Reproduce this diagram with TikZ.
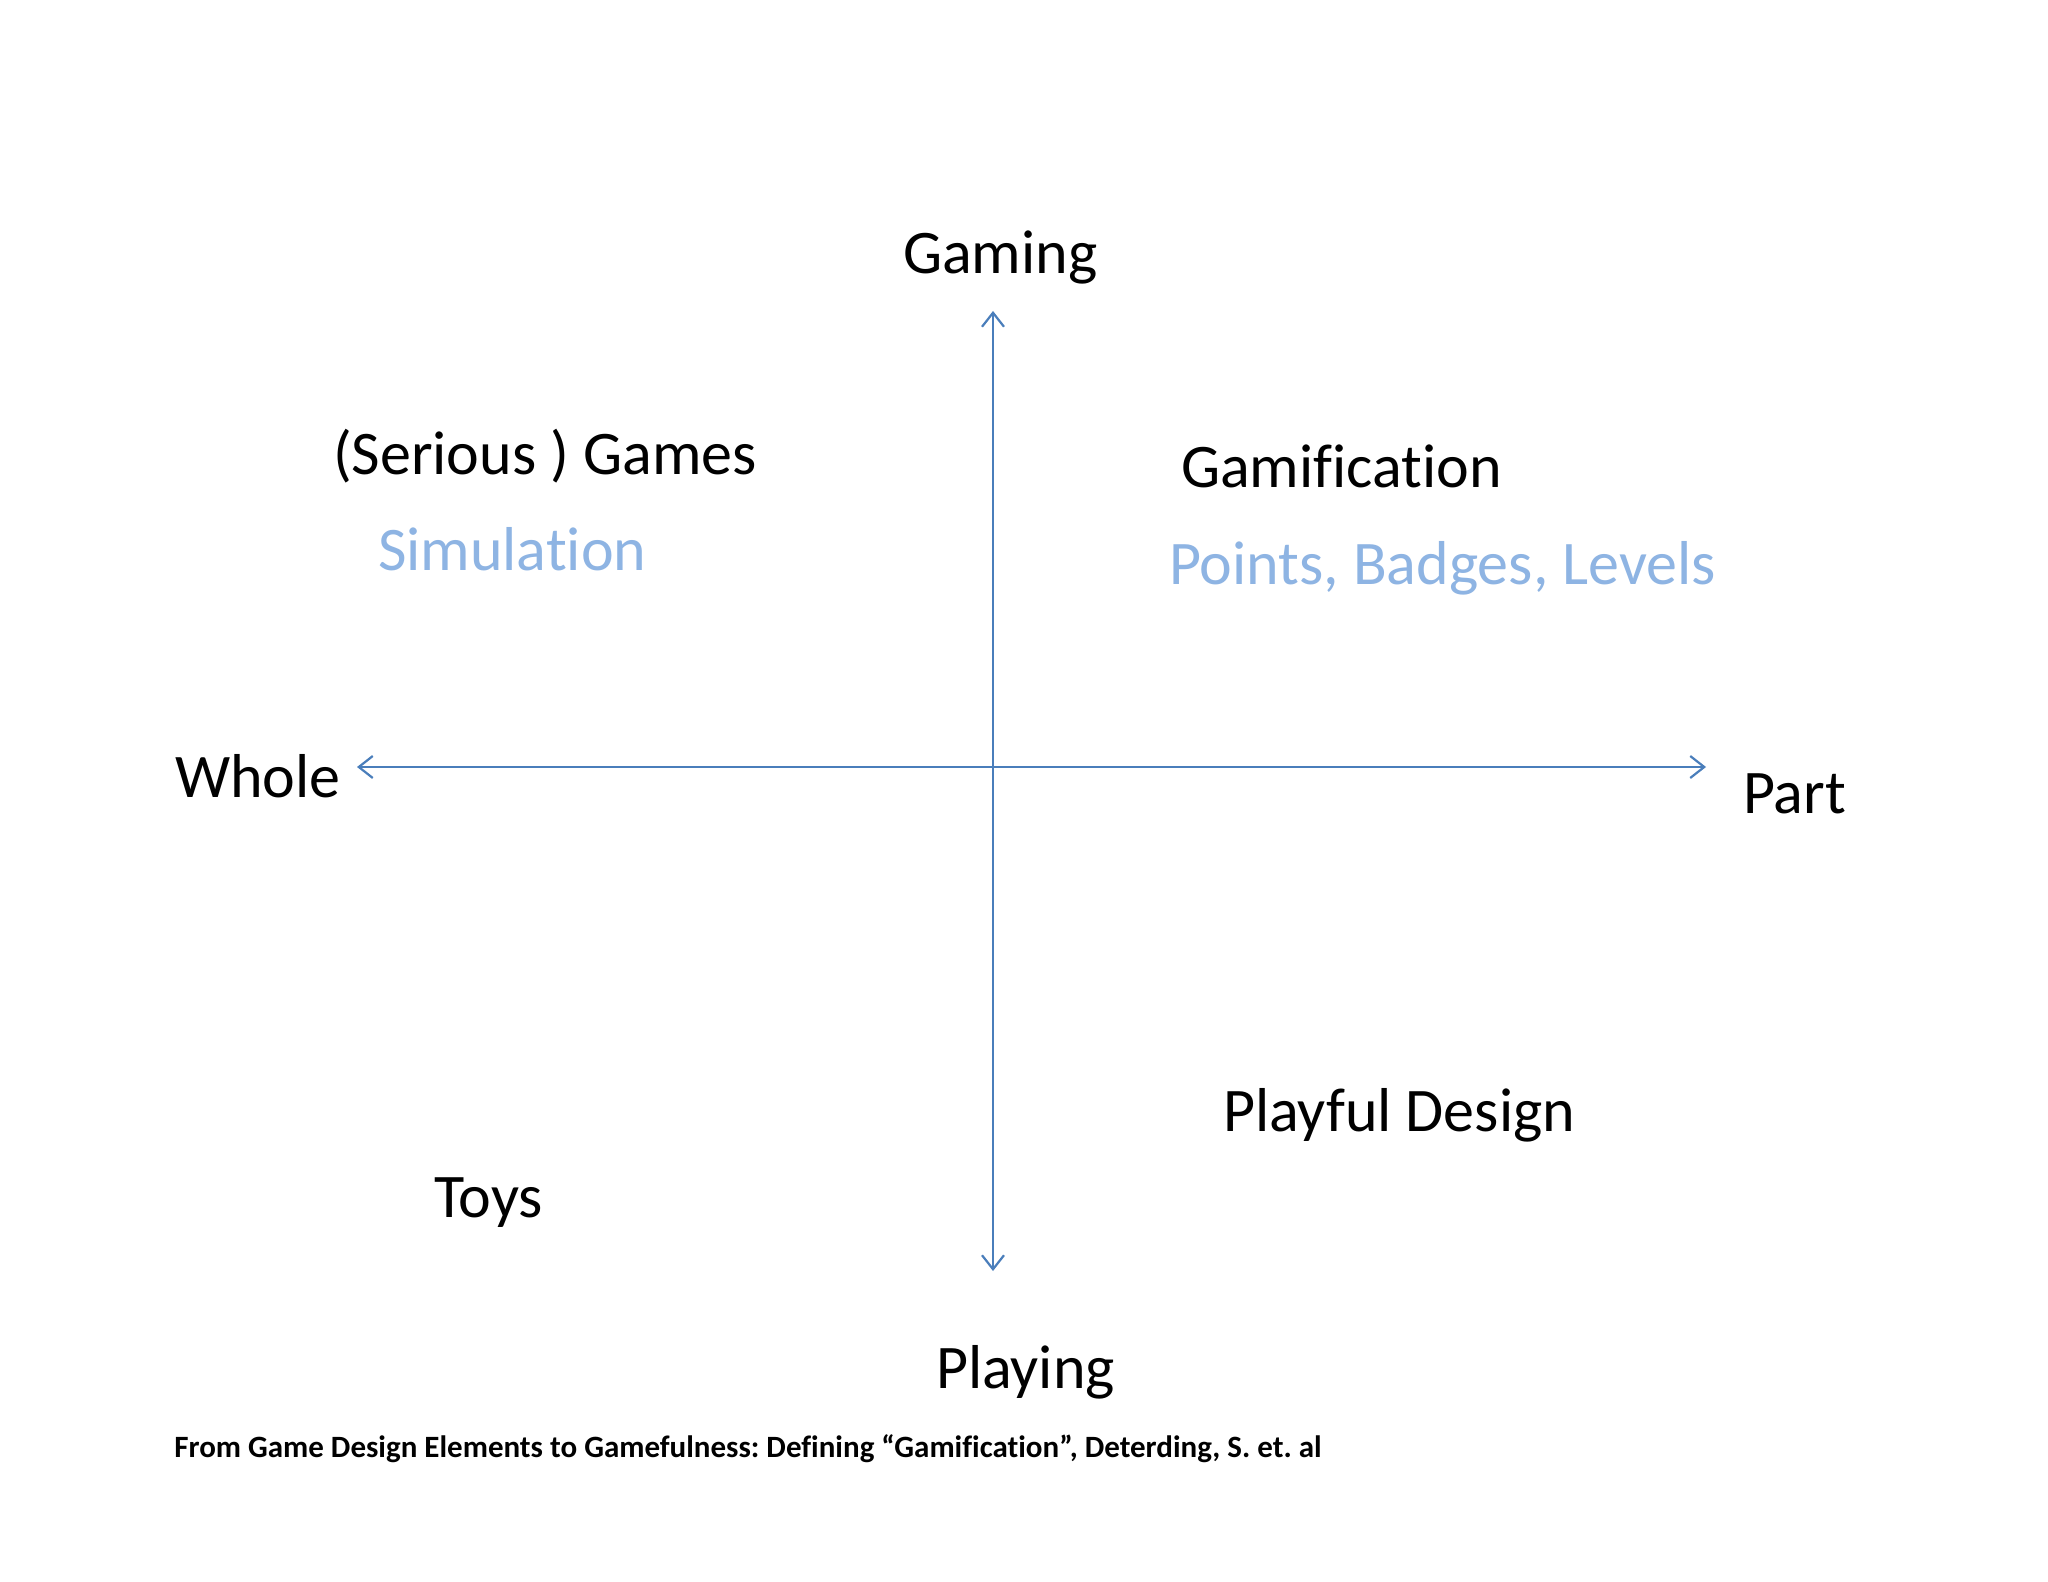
\documentclass[tikz,border=0pt]{standalone}
\usepackage{fontspec}
\setmainfont[RawFeature=-liga]{Carlito}
\usetikzlibrary{arrows.meta}
\definecolor{axisblue}{HTML}{4A7EBB}
\definecolor{lightblue}{HTML}{8EB4E3}
\frenchspacing
\begin{document}
\begin{tikzpicture}[x=0.5pt,y=-0.5pt,
  lbl/.style={anchor=base west,inner sep=0pt,outer sep=0pt,font=\fontsize{31pt}{37pt}\selectfont},
  sub/.style={lbl,text=lightblue},
  axisline/.style={draw=axisblue,line width=1.2pt,-{Straight Barb[length=7pt,width=11pt,line width=1.1pt]}},
  captext/.style={anchor=base west,inner sep=0pt,font=\fontsize{15.5pt}{18pt}\selectfont\bfseries}]
\useasboundingbox[fill=white] (0,0) rectangle (2048,1582);
% axis end points
\coordinate (c) at (993,767);
\coordinate (top) at (993,311);
\coordinate (bot) at (993,1271);
\coordinate (lft) at (357,767);
\coordinate (rgt) at (1706,767);
\draw[axisline] (c) -- (top);
\draw[axisline] (c) -- (bot);
\draw[axisline] (c) -- (lft);
\draw[axisline] (c) -- (rgt);
% labels
\node[lbl] (gaming) at (903,274) {Gaming};
\node[lbl] (playing) at (936,1388) {Playing};
\node[lbl] (whole) at (175,797) {Whole};
\node[lbl] (part) at (1743,813) {Part};
\node[lbl] (serious) at (333,475) {(Serious ) Games};
\node[sub] (sim) at (378,571) {Simulation};
\node[lbl] (gamif) at (1181,488) {Gamification};
\node[sub] (pbl) at (1169,584) {Points, Badges, Levels};
\node[lbl] (playful) at (1223,1131) {Playful Design};
\node[lbl] (toys) at (434,1217) {Toys};
\node[captext] (caption) at (174,1457) {From Game Design Elements to Gamefulness: Defining “Gamification”, Deterding, S. et. al};
\end{tikzpicture}
\end{document}
